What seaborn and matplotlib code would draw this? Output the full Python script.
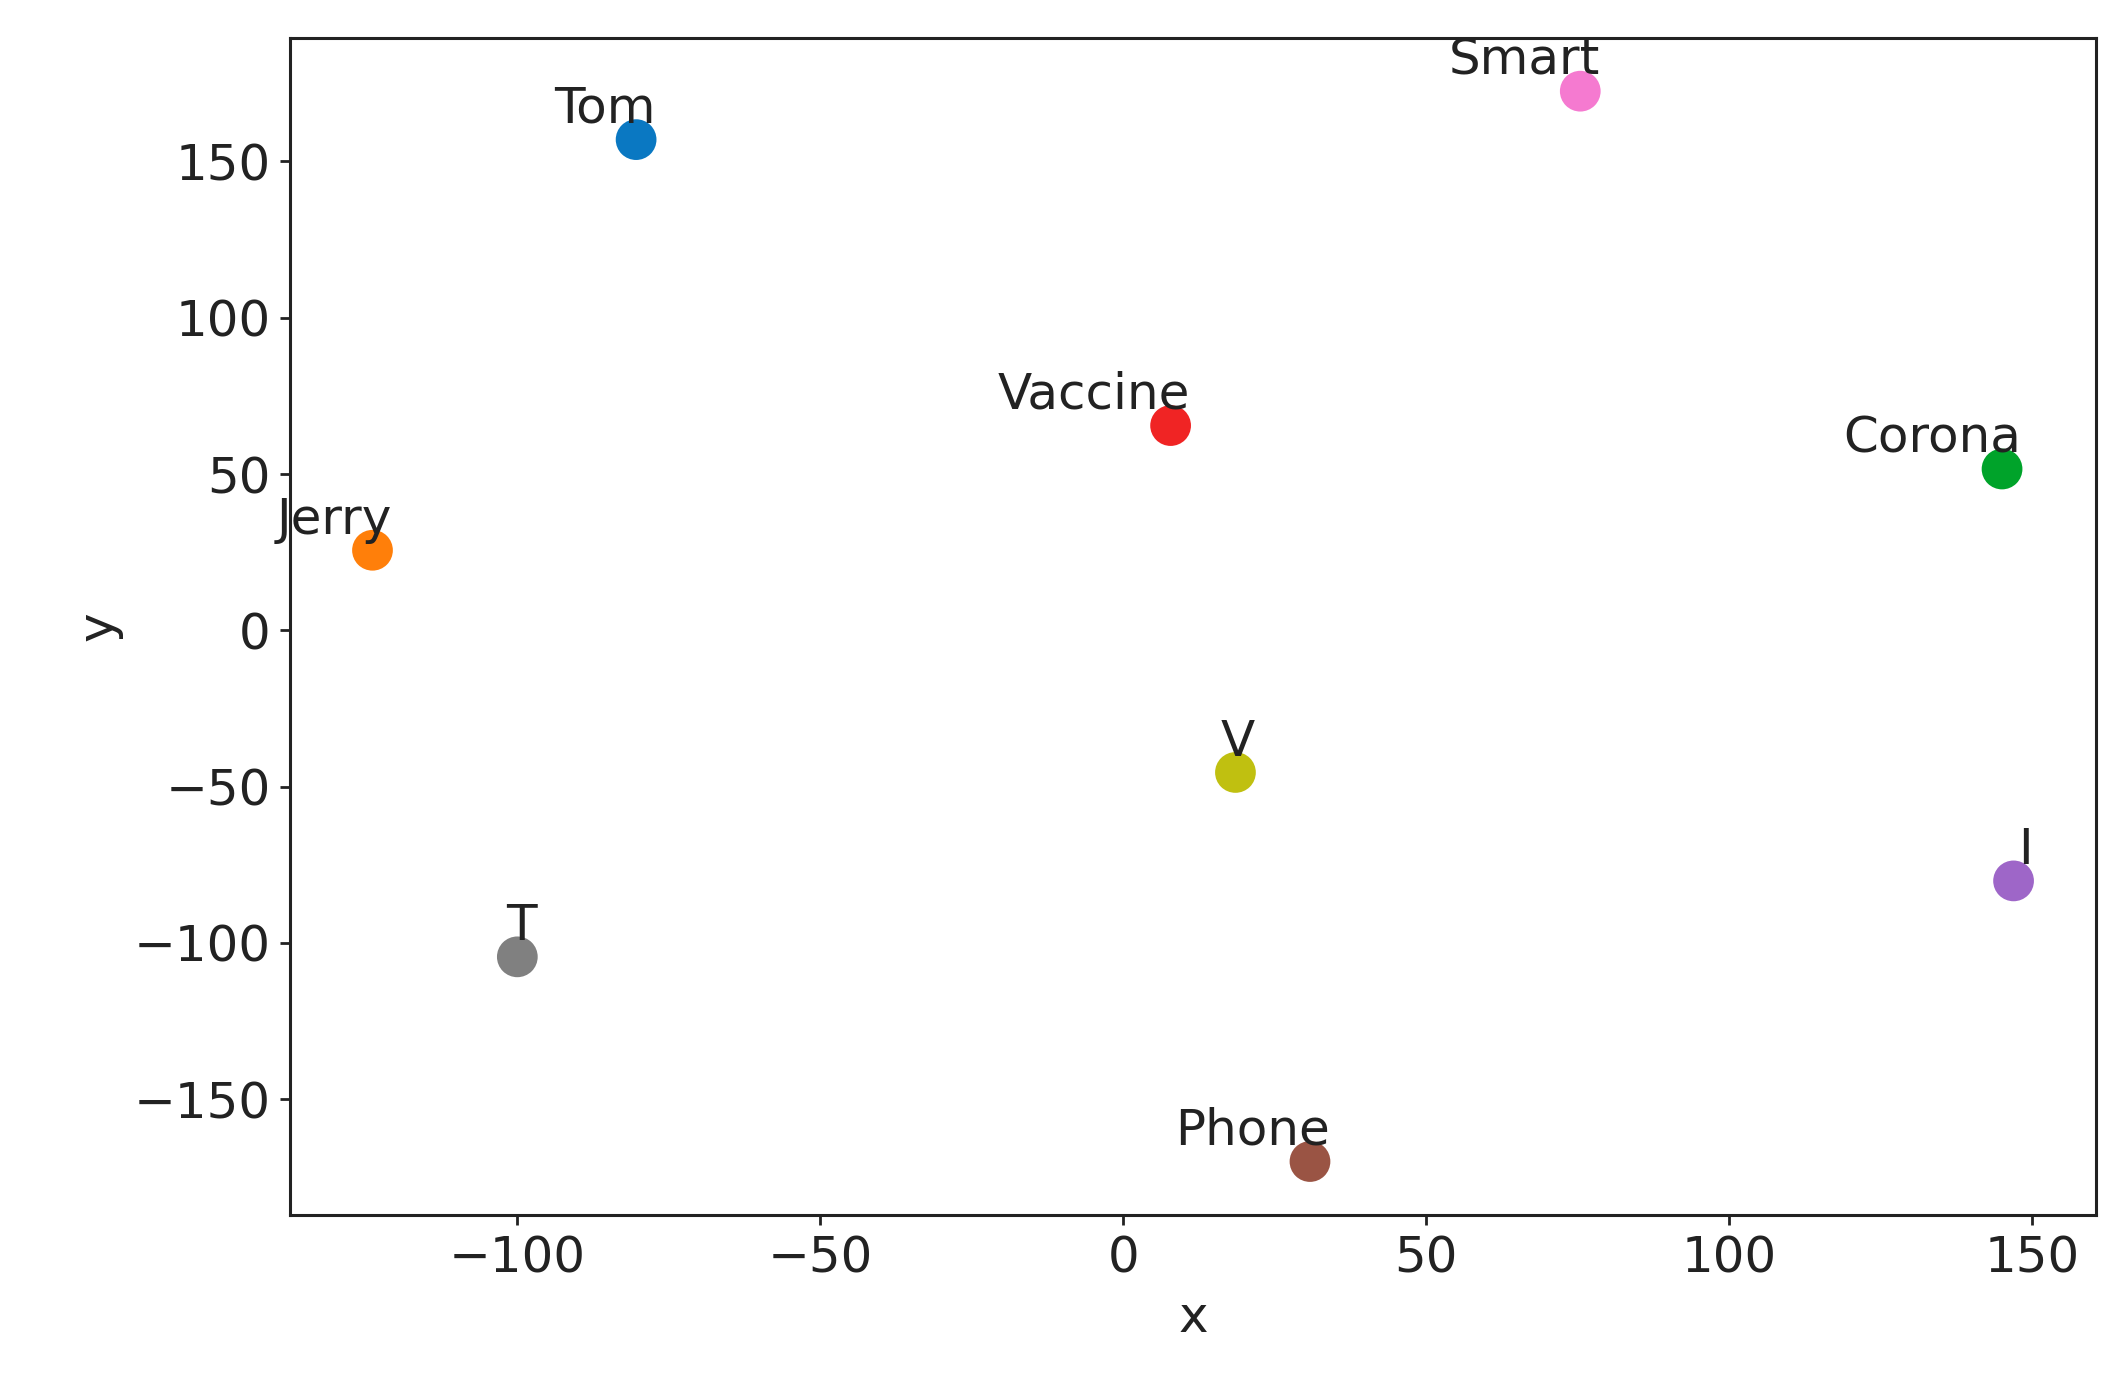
import matplotlib
matplotlib.use("Agg")
import matplotlib.pyplot as plt
import seaborn as sns
import pandas as pd

words = ["Tom", "Jerry", "Corona", "Vaccine", "I", "Phone", "Smart", "T", "V"]
x_vals = [-80.4, -123.9, 145.0, 7.8, 146.9, 30.8, 75.4, -100.0, 18.5]
y_vals = [157.0, 25.6, 51.6, 65.5, -80.2, -170.0, 172.5, -104.5, -45.5]
colors = ["#0a78c2", "#ff7f0a", "#00a32a", "#f02424", "#9e66c8",
          "#9a5444", "#f57ad0", "#808080", "#c0c010"]

df = pd.DataFrame({"x": x_vals, "y": y_vals, "word": words})

sns.set_style("ticks")
plt.rcParams["font.family"] = ["DejaVu Sans"]

fig = plt.figure(figsize=(10.6, 6.975), dpi=200)
ax = fig.add_axes([0.137, 0.129, 0.8515, 0.844])

sns.scatterplot(data=df, x="x", y="y", hue="word", palette=colors,
                s=215, linewidth=0, legend=False, ax=ax)

for w, xv, yv in zip(words, x_vals, y_vals):
    ax.annotate(w, (xv, yv), xytext=(7, 6), textcoords="offset points",
                ha="right", va="baseline", fontsize=18, color="#222222")

ax.set_xticks([-100, -50, 0, 50, 100, 150])
ax.set_yticks([-150, -100, -50, 0, 50, 100, 150])
ax.tick_params(labelsize=18, length=3.5, width=1.0, colors="#222222")
ax.set_xlabel("x", fontsize=18, color="#222222")
ax.set_ylabel("y", fontsize=18, color="#222222")
for sp in ax.spines.values():
    sp.set_visible(True)
    sp.set_linewidth(1.1)
    sp.set_color("#222222")

fig.savefig("out.png", dpi=200)
